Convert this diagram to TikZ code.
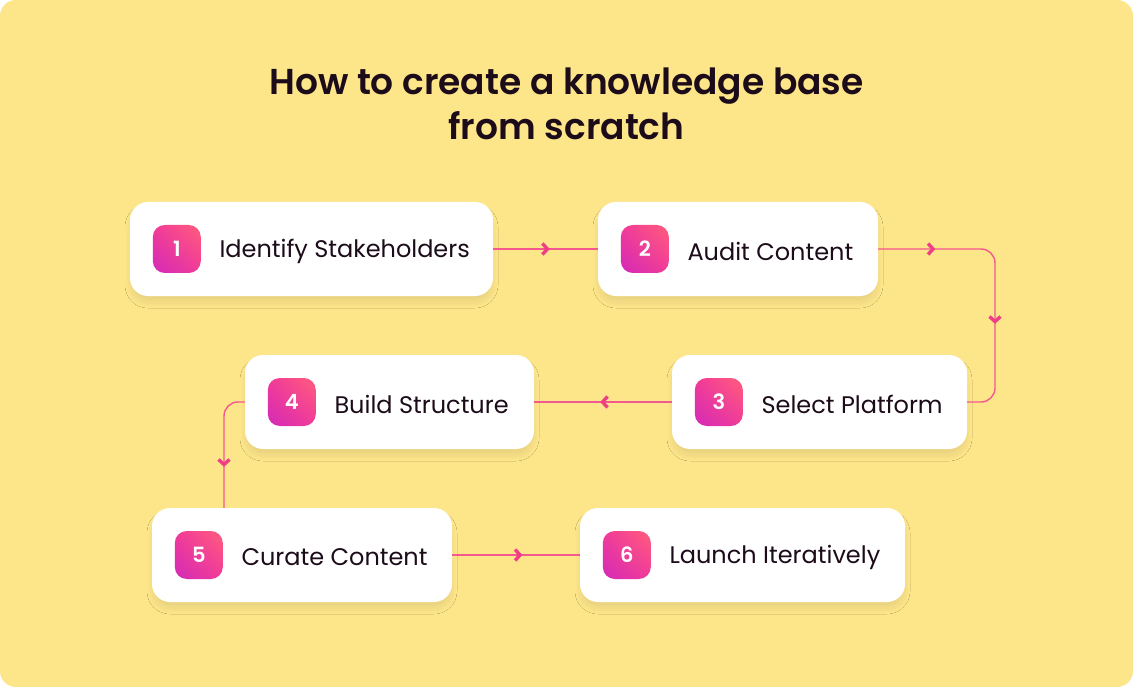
\documentclass[tikz,border=0pt]{standalone}
\usepackage{fontspec}
\setmainfont{Poppins}[BoldFont={Poppins SemiBold}]
\usetikzlibrary{arrows.meta, decorations.markings, shadows.blur, shadings, calc}
\definecolor{KBbg}{HTML}{FDE58A}
\definecolor{KBpink}{HTML}{F4588E}
\definecolor{KBchev}{HTML}{EE3F86}
\definecolor{KBmagenta}{HTML}{D22AB8}
\definecolor{KBmid}{HTML}{F23A98}
\definecolor{KBrose}{HTML}{FF5E7C}
\definecolor{KBink}{HTML}{1C0B19}

\tikzset{
   stepcard/.style={fill=white, rounded corners=18pt, minimum height=94pt,
      blur shadow={shadow xshift=0pt, shadow yshift=-7pt, shadow blur radius=5pt,
         shadow blur steps=10, shadow opacity=7}},
   badge/.style={rounded corners=12pt, minimum width=48pt, minimum height=48pt,
      lower left=KBmagenta, upper right=KBrose, upper left=KBmid, lower right=KBmid,
      text=white, font=\fontsize{21}{24}\selectfont\bfseries},
   steplabel/.style={anchor=west, text=KBink, font=\fontsize{24}{28}\selectfont},
   chev/.tip={Straight Barb[length=5pt, width=11pt, line width=3.4pt]},
   flow/.style={KBpink, line width=1.4pt, rounded corners=14pt, postaction={decorate},
      decoration={markings, mark=at position #1 with {\arrow[KBchev]{chev}}}},
   flowtwo/.style 2 args={KBpink, line width=1.4pt, rounded corners=14pt, postaction={decorate},
      decoration={markings, mark=at position #1 with {\arrow[KBchev]{chev}},
         mark=at position #2 with {\arrow[KBchev]{chev}}}}
}

\begin{document}
\begin{tikzpicture}[x=1pt, y=-1pt]
   \useasboundingbox (0,0) rectangle (1133,687);
   \fill[KBbg, rounded corners=16pt] (0,0) rectangle (1133,687);

   \node[text=KBink, align=center, font=\fontsize{36}{45}\selectfont\bfseries] (title)
      at (566.5,104) {How to create a knowledge base\\from scratch};

   % cards
   \node[stepcard, minimum width=363pt] (s1) at (311.5,249) {};
   \node[stepcard, minimum width=280pt] (s2) at (738,249) {};
   \node[stepcard, minimum width=295pt] (s3) at (819.5,402) {};
   \node[stepcard, minimum width=289pt] (s4) at (389.5,402) {};
   \node[stepcard, minimum width=300pt] (s5) at (302,555) {};
   \node[stepcard, minimum width=325pt] (s6) at (742.5,555) {};

   \foreach \i/\txt in {1/Identify Stakeholders, 2/Audit Content, 3/Select Platform,
                       4/Build Structure, 5/Curate Content, 6/Launch Iteratively} {
      \node[badge] (n\i) at ($(s\i.west)+(47,0)$) {\i};
      \node[steplabel] (t\i) at ($(n\i.east)+(15,2.5)$) {\txt};
   }

   % connectors
   \coordinate (c23) at (995,249);
   \coordinate (c45) at (224,402);
   \draw[flow=0.54] (s1.east) -- (s2.west);
   \draw[flowtwo={0.2}{0.65}] (s2.east) -- (c23) -- (c23 |- s3.east) -- (s3.east);
   \draw[flow=0.52] (s3.west) -- (s4.east);
   \draw[flow=0.66] (s4.west) -- (c45) -- (c45 |- s5.north);
   \draw[flow=0.55] (s5.east) -- (s6.west);
\end{tikzpicture}
\end{document}
